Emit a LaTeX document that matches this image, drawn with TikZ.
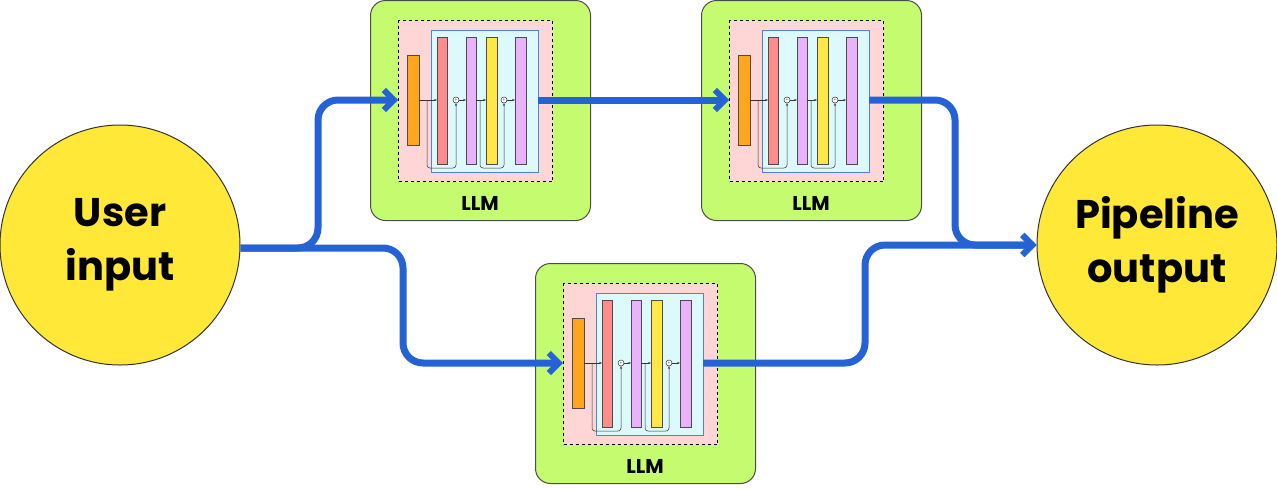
\documentclass[tikz,border=0pt]{standalone}
\usepackage{fontspec}
\setmainfont{Poppins}
\usetikzlibrary{arrows.meta}
\definecolor{flow}{RGB}{36,98,214}
\definecolor{grn}{RGB}{197,252,111}
\definecolor{pinkb}{RGB}{255,214,214}
\definecolor{cyanb}{RGB}{220,250,252}
\definecolor{org}{RGB}{255,165,30}
\definecolor{redb}{RGB}{255,140,140}
\definecolor{pur}{RGB}{234,178,250}
\definecolor{yel}{RGB}{255,232,70}
\definecolor{ball}{RGB}{255,232,56}
\tikzset{
  flowline/.style={draw=flow,line width=7pt,rounded corners=20pt,-{Straight Barb[length=10pt,width=20pt,line width=6pt]}},
  ball/.style={circle,fill=ball,draw=black!80,line width=1pt,minimum size=240pt,font=\bfseries\fontsize{40}{54}\selectfont,align=center,inner sep=0pt},
  bar/.style={draw=black!70,line width=0.6pt},
  pics/llm/.style={code={
    \node[draw=black!70,line width=1pt,fill=grn,rounded corners=15pt,minimum width=220pt,minimum height=220pt,anchor=north west,inner sep=0pt] (-box) at (0,0) {};
    \node[draw=black,dashed,line width=1pt,fill=pinkb,minimum width=154pt,minimum height=161pt,anchor=north west,inner sep=0pt] (-dash) at (28,20) {};
    \node[draw=flow!80,line width=1.2pt,fill=cyanb,minimum width=107pt,minimum height=142pt,anchor=north west,inner sep=0pt] (-blue) at (61,30) {};
    \node[font=\bfseries\fontsize{20}{24}\selectfont] (-lab) at (110,203) {LLM};
    \coordinate (-in) at (28,100);
    \coordinate (-out) at (168,100);
    \draw[bar,fill=org] (37,55) rectangle (49,145);
    \draw[bar,fill=redb] (67,37) rectangle (77,164);
    \draw[bar,fill=pur] (96,37) rectangle (106,164);
    \draw[bar,fill=yel] (116,37) rectangle (127,164);
    \draw[bar,fill=pur] (145,37) rectangle (156,164);
    \draw[black!80,line width=0.5pt,-{Stealth[length=3pt]}] (49,100) -- (67,100);
    \draw[black!80,line width=0.5pt,-{Stealth[length=3pt]}] (89,100) -- (96,100);
    \draw[black!80,line width=0.5pt,-{Stealth[length=3pt]}] (106,100) -- (116,100);
    \draw[black!80,line width=0.5pt,-{Stealth[length=3pt]}] (137,100) -- (145,100);
    \draw[black!80,line width=0.5pt,fill=white] (86,100) circle (3pt) node[font=\fontsize{4}{4}\selectfont,inner sep=0pt]{+};
    \draw[black!80,line width=0.5pt,fill=white] (134,100) circle (3pt) node[font=\fontsize{4}{4}\selectfont,inner sep=0pt]{+};
    \draw[black!80,line width=0.5pt,rounded corners=3pt,-{Stealth[length=3pt]}] (57,100) -- (57,168) -- (86,168) -- (86,103);
    \draw[black!80,line width=0.5pt,rounded corners=3pt,-{Stealth[length=3pt]}] (110,100) -- (110,168) -- (134,168) -- (134,103);
  }}
}
\begin{document}
\begin{tikzpicture}[x=1pt,y=-1pt]
\useasboundingbox (0,0) rectangle (1277,488);
\node[ball] (user) at (120,245) {User\\input};
\node[ball] (out) at (1157,245) {Pipeline\\output};
\pic (a) at (370,0) {llm};
\pic (b) at (701,0) {llm};
\pic (c) at (535,263) {llm};
\coordinate (u) at (user.east |- 0,248);
\draw[flowline] (u) -- (318,248) -- (318,100) -- (a-in);
\draw[flowline] (u) -- (403,248) -- (403,363) -- (c-in);
\draw[flowline,rounded corners=0pt] (a-out) -- (b-in);
\draw[flowline] (b-out) -- (955,100) -- (955,245) -- (out.west);
\draw[flowline] (c-out) -- (865,363) -- (865,245) -- (out.west);
\end{tikzpicture}
\end{document}
